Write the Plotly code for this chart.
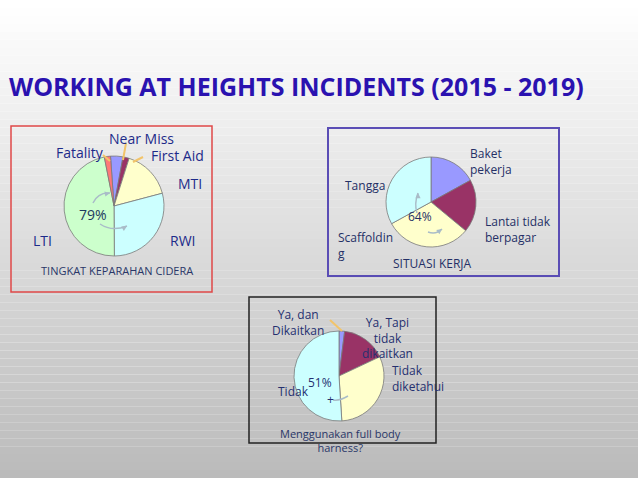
import plotly.graph_objects as go

W, H = 638, 478

# ---- data ----
sev_labels = ["Near Miss", "First Aid", "MTI", "RWI", "LTI", "Fatality"]
sev_values = [4, 2, 16, 29, 47, 2]
sev_colors = ["#9999ff", "#993366", "#ffffcc", "#ccffff", "#ccffcc", "#ff7777"]

sit_labels = ["Baket pekerja", "Lantai tidak berpagar", "Scaffolding", "Tangga"]
sit_values = [17, 19, 31, 33]
sit_colors = ["#9999ff", "#993366", "#ffffcc", "#ccffff"]

har_labels = ["Ya, dan Dikaitkan", "Ya, Tapi tidak dikaitkan", "Tidak diketahui", "Tidak"]
har_values = [2, 16, 31, 51]
har_colors = ["#9999ff", "#993366", "#ffffcc", "#ccffff"]

title_text = "WORKING AT HEIGHTS INCIDENTS (2015 - 2019)"
cap_sev = "TINGKAT KEPARAHAN CIDERA"
cap_sit = "SITUASI KERJA"
cap_har = "Menggunakan full body<br>harness?"
pct_sev, pct_sit, pct_har = "79%", "64%", "51%"


def px(x):
    return x / W


def py(y):
    return 1 - y / H


def dom(cx, cy, r):
    return dict(x=[px(cx - r), px(cx + r)], y=[py(cy + r), py(cy - r)])


fig = go.Figure()
common = dict(sort=False, direction="clockwise", textinfo="none", hoverinfo="label+percent",
              showlegend=False, marker_line=dict(color="#7a7a7a", width=0.8))
fig.add_trace(go.Pie(labels=sev_labels, values=sev_values, marker_colors=sev_colors,
                     rotation=-4, domain=dom(114, 206, 50), **common))
fig.add_trace(go.Pie(labels=sit_labels, values=sit_values, marker_colors=sit_colors,
                     rotation=0, domain=dom(431, 202, 45), **common))
fig.add_trace(go.Pie(labels=har_labels, values=har_values, marker_colors=har_colors,
                     rotation=0, domain=dom(339, 376, 45), **common))

shapes = []
# background gradient
N = 60
for i in range(N):
    t = i / (N - 1)
    v = int(round(255 - (255 - 187) * t))
    shapes.append(dict(type="rect", xref="paper", yref="paper", layer="below",
                       x0=0, x1=1, y0=1 - (i + 1) / N, y1=1 - i / N,
                       fillcolor=f"rgb({v},{v},{v})", line_width=0))
# boxes
shapes.append(dict(type="rect", xref="paper", yref="paper", x0=px(11), x1=px(212), y0=py(292), y1=py(126),
                   line=dict(color="#e04848", width=1.5)))
shapes.append(dict(type="rect", xref="paper", yref="paper", x0=px(328), x1=px(559), y0=py(276), y1=py(128),
                   line=dict(color="#5a4db5", width=2)))
shapes.append(dict(type="rect", xref="paper", yref="paper", x0=px(249), x1=px(436), y0=py(443), y1=py(297),
                   line=dict(color="#222222", width=1.5)))
# leader lines
lead = "#f2c46a"
for (x0, y0, x1, y1) in [(103, 155, 110, 161), (126, 143, 123, 160), (143, 157, 133, 162), (330, 320, 342, 331)]:
    shapes.append(dict(type="line", xref="paper", yref="paper", x0=px(x0), y0=py(y0), x1=px(x1), y1=py(y1),
                       line=dict(color=lead, width=2)))


# small curved arrows (decoration)
def arc(x0, y0, xc, yc, x1, y1):
    return dict(type="path", xref="paper", yref="paper",
                path=f"M {px(x0)} {py(y0)} Q {px(xc)} {py(yc)} {px(x1)} {py(y1)}",
                line=dict(color="#a9bcc8", width=1.5))


shapes += [arc(93, 203, 98, 192, 110, 193), arc(100, 224, 112, 232, 127, 226),
           arc(417, 213, 414, 204, 418, 193), arc(428, 232, 436, 235, 442, 229),
           arc(333, 400, 340, 401, 348, 396)]

ann = []


def txt(x, y, s, size=13, color="#1d2b6e", anchor="center", bold=False):
    ann.append(dict(xref="paper", yref="paper", x=px(x), y=py(y), text=s, showarrow=False,
                    xanchor=anchor, yanchor="middle", align="left" if anchor == "left" else "center",
                    font=dict(family="Open Sans", size=size, color=color)))


# arrowheads
for (x, y, ax, ay) in [(110, 193, -5, 1), (127, 226, -5, 3), (418, 193, 0, 5), (442, 229, -4, 3)]:
    ann.append(dict(xref="paper", yref="paper", x=px(x), y=py(y), ax=ax, ay=ay, text="",
                    showarrow=True, arrowhead=2, arrowsize=0.8, arrowwidth=1.3, arrowcolor="#a9bcc8"))

ann.append(dict(xref="paper", yref="paper", x=px(7), y=py(86), text="<b>" + title_text + "</b>",
                showarrow=False, xanchor="left", yanchor="middle",
                font=dict(family="Open Sans", size=25, color="#2a12b0")))

lab = "#1d2b8a"
txt(141, 138, sev_labels[0], 14, lab)
txt(80, 153, sev_labels[5], 14, lab)
txt(177, 155, sev_labels[1], 14, lab)
txt(190, 183, sev_labels[2], 14, lab)
txt(93, 214, pct_sev, 14, "#1d3a5e")
txt(42, 241, sev_labels[4], 14, lab)
txt(182, 240, sev_labels[3], 14, lab)
txt(117, 270, cap_sev, 11, "#2a3768")

lab2 = "#253066"
txt(468, 162, "Baket<br>pekerja", 12, lab2, "left")
txt(365, 185, sit_labels[3], 12, lab2)
txt(420, 216, pct_sit, 12, lab2)
txt(483, 229, "Lantai tidak<br>berpagar", 12, lab2, "left")
txt(336, 245, "Scaffoldin<br>g", 12, lab2, "left")
txt(432, 263, cap_sit, 12, lab2)

lab3 = "#253070"
txt(298, 322, "Ya, dan<br>Dikaitkan", 12, lab3)
txt(388, 338, "Ya, Tapi<br>tidak<br>dikaitkan", 12, lab3)
txt(390, 378, "Tidak<br>diketahui", 12, lab3, "left")
txt(320, 382, pct_har, 12, lab3)
txt(293, 391, har_labels[3], 12, lab3)
txt(330, 399, "+", 12, lab3)
txt(340, 440, cap_har, 11, "#2a3768")

fig.update_layout(width=W, height=H, margin=dict(l=0, r=0, t=0, b=0),
                  paper_bgcolor="white", plot_bgcolor="white",
                  shapes=shapes, annotations=ann)
fig.write_html("out.html")
